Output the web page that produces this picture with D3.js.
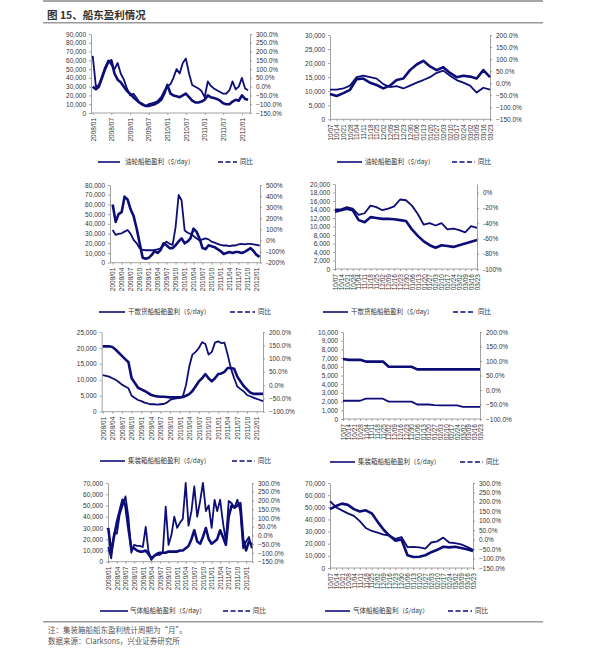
<!DOCTYPE html>
<meta charset="utf-8">
<title>船东盈利情况</title>
<style>

body {
  margin: 0px;
  background: #fff;
}

svg {
  display: block;
  font-family: "Liberation Sans", Arial, sans-serif;
}

.tick text {
  fill: #333;
  font-size: 6.5px;
}

.domain, .tick line {
  stroke: #8a8a8a;
  stroke-width: 0.8px;
}

.cjk {
  font-family: "Noto Sans CJK SC", sans-serif;
}

</style>

<script src="https://cdn.jsdelivr.net/npm/d3@7"></script>

<body>

<script>

// ---- tick labels / categories
var halfYearTicks = ["2008/01", "2008/07", "2009/01", "2009/07", "2010/01", "2010/07", "2011/01", "2011/07", "2012/01"];
var quarterTicks = ["2008/01", "2008/04", "2008/07", "2008/10", "2009/01", "2009/04", "2009/07", "2009/10",
                    "2010/01", "2010/04", "2010/07", "2010/10", "2011/01", "2011/04", "2011/07", "2011/10", "2012/01"];
var weekLabels = ["10/07", "10/14", "10/21", "10/28", "11/04", "11/11", "11/18", "11/25", "12/02", "12/09",
                  "12/16", "12/23", "12/30", "01/06", "01/13", "01/20", "01/27", "02/03", "02/10", "02/17",
                  "02/24", "03/02", "03/09", "03/16", "03/23"];

// ---- oil tankers, monthly 2008/01 - 2012/03
var oilProfit = [30000, 27000, 30000, 40000, 50000, 58000, 60000, 45000, 38000, 35000, 30000, 25000,
                 22000, 18000, 15000, 12000, 10000, 8000, 8000, 9000, 10000, 12000, 15000, 22000,
                 32000, 22000, 20000, 19000, 18000, 20000, 22000, 18000, 14000, 12000, 12000, 13000,
                 15000, 20000, 18000, 17000, 16000, 14000, 11000, 10000, 10000, 13000, 15000, 14000,
                 20000, 16000, 15000];
var oilYoy = [175, 0, 10, 60, 110, 150, 125, 100, 135, 75, 40, -10,
              -50, -40, -60, -90, -105, -110, -100, -95, -90, -80, -60, -25,
              0, 15, 50, 100, 75, 135, 160, 75, 10, 0, -10, -25,
              -60, 30, 5, -10, -20, -30, -40, -40, -20, 30, -15, 0,
              50, -10, -20];

// ---- dry bulk, monthly 2008/01 - 2012/02
var bulkProfit = [60000, 42000, 50000, 52000, 68000, 65000, 55000, 48000, 35000, 20000, 5000, 4000,
                  5000, 8000, 12000, 10000, 13000, 20000, 18000, 15000, 15000, 18000, 22000, 25000,
                  20000, 22000, 25000, 35000, 32000, 25000, 15000, 14000, 18000, 17000, 16000, 14000,
                  12000, 9000, 10000, 11000, 10000, 11000, 11000, 10000, 11000, 13000, 15000, 12000,
                  8000, 6000];
var bulkYoy = [95, 50, 60, 65, 80, 95, 60, 5, -25, -70, -85, -88,
               -88, -88, -85, -80, -70, -45, -10, -30, -40, 120, 410, 360,
               90, 70, 60, 40, 20, 0, 10, 20, 10, -10, -20, -30,
               -40, -45, -45, -50, -45, -45, -35, -30, -35, -30, -30, -35,
               -40, -45];

// ---- containerships, monthly 2008/01 - 2012/03
var boxProfit = [20500, 20500, 20500, 20300, 19500, 18500, 17500, 16500, 15500, 10500, 9000, 7500,
                 7000, 6500, 6000, 5300, 5000, 4800, 4700, 4700, 4600, 4500, 4500, 4500,
                 4500, 4600, 5000, 5500, 6500, 8000, 9500, 10500, 11800, 10500, 9500, 10500,
                 11800, 12000, 12500, 13700, 13700, 13500, 11000, 9500, 8000, 7000, 6000, 5600,
                 5600, 5600, 5600];
var boxYoy = [38, 35, 32, 26, 20, 12, 2, -5, -12, -40, -48, -56,
              -60, -66, -69, -72, -72, -73, -72, -71, -66, -56, -52, -50,
              -48, -40, 0, 70, 115, 125, 140, 162, 155, 115, 125, 160,
              165, 158, 160, 114, 64, 26, -5, -15, -24, -37, -42, -47,
              -52, -56, -60];

// ---- gas carriers, monthly 2008/01 - 2012/03
var gasProfit = [30000, 8000, 22000, 35000, 45000, 55000, 50000, 30000, 12000, 12000, 10000, 9000,
                 9000, 10000, 7000, 3000, 5000, 7000, 8000, 8000, 8000, 9000, 9000, 9000,
                 9000, 10000, 10000, 12000, 14000, 20000, 28000, 18000, 16000, 22000, 30000, 20000,
                 16000, 18000, 20000, 28000, 22000, 15000, 40000, 50000, 48000, 50000, 52000, 20000,
                 10000, 18000, 15000];
var gasYoy = [-66, -131, 11, 11, 120, 172, 223, 107, -99, -54, -60, -60,
              -66, 49, -86, -140, -118, -111, -111, -99, 165, -54, 4, 107,
              43, 75, 94, 300, 56, 139, 281, 107, 197, 300, 139, 172,
              43, 204, 139, 204, 75, -34, 197, 184, 159, 204, 139, -73,
              -34, -9, -73];

// ---- weekly 2011/10/07 - 2012/03/23
var oilWeekProfit = [9000, 8300, 9300, 10500, 14300, 14500, 13000, 12200, 11000, 12000, 14000, 14500, 17500,
                     19500, 20800, 18800, 17500, 18500, 16500, 15000, 15500, 15200, 14500, 17500, 15000];
var oilWeekYoy = [-27, -27, -22, -10, 25, 31, 25, 19, -4, -16, -12, -22, -10,
                  2, 13, 25, 43, 52, 31, 13, 2, -10, -39, -19, -27];
var bulkWeekProfit = [13500, 13800, 14200, 13800, 11500, 11000, 12200, 12000, 11800, 11800, 11700, 11500, 11300,
                      9300, 7800, 6500, 5600, 5000, 5600, 5400, 5200, 5600, 6000, 6400, 6800];
var bulkWeekYoy = [-22, -22, -19, -21, -29, -27, -17, -19, -23, -21, -18, -9, -10,
                   -17, -28, -42, -40, -43, -40, -48, -47, -49, -52, -44, -46];
var boxWeekProfit = [6900, 6800, 6800, 6800, 6600, 6600, 6600, 6600, 6000, 6000, 6000, 6000, 6000,
                     5700, 5700, 5700, 5700, 5700, 5700, 5700, 5700, 5700, 5700, 5700, 5700];
var boxWeekYoy = [-37, -37, -37, -37, -30, -30, -30, -30, -40, -40, -40, -40, -40,
                  -50, -50, -50, -52, -53, -53, -53, -53, -58, -58, -58, -58];
var gasWeekProfit = [48500, 51000, 53000, 52000, 48500, 46500, 47500, 45000, 38000, 31500, 26500, 22500, 23500,
                     10500, 9000, 9300, 10500, 13000, 15000, 17500, 17000, 17500, 16500, 15500, 14000];
var gasWeekYoy = [204, 172, 155, 139, 126, 98, 62, 46, 37, 27, 22, 4, 14,
                  -39, -38, -41, -47, -15, -9, 11, -15, -18, -25, -38, -54];

var navy = "#0d0d78";
var width = 595, height = 657;
var parseMonth = d3.timeParse("%Y/%m");
var fmtPct1 = function(v) { return d3.format(".1f")(v) + "%"; };
var fmtPct0 = function(v) { return v + "%"; };

var svg = d3.select("body").append("svg")
    .attr("width", width)
    .attr("height", height);

// page furniture
svg.append("rect").attr("x", 43).attr("y", 0).attr("width", 500).attr("height", 2).attr("fill", "#a6a6a6");
svg.append("rect").attr("x", 43).attr("y", 22).attr("width", 500).attr("height", 1.5).attr("fill", "#9a9a9a");
svg.append("rect").attr("x", 43).attr("y", 621).attr("width", 500).attr("height", 1.5).attr("fill", "#9a9a9a");

svg.append("text").attr("class", "cjk")
    .attr("x", 47).attr("y", 19)
    .attr("font-size", "10.5px").attr("font-weight", 700).attr("fill", "#333")
    .text("图 15、船东盈利情况");

svg.append("text").attr("class", "cjk")
    .attr("x", 48).attr("y", 633)
    .attr("font-size", "7.5px").attr("fill", "#555")
    .text("注：集装箱船船东盈利统计周期为“月”。");
svg.append("text").attr("class", "cjk")
    .attr("x", 48).attr("y", 644)
    .attr("font-size", "7.5px").attr("fill", "#555")
    .text("数据来源：Clarksons，兴业证券研究所");

var months51 = d3.timeMonth.range(new Date(2008, 0, 1), new Date(2012, 3, 1));

var panels = [
  { box: [63, 30, 220, 137], x0: 91, x1: 250, yTop: 34, yBot: 113,
    lMax: 90000, lStep: 10000, rDom: [-150, 300], rTicks: d3.range(-150, 301, 50), rFmt: fmtPct1,
    time: true, xDom: [new Date(2007, 11, 15), new Date(2012, 2, 20)], ticks: halfYearTicks,
    profit: oilProfit, yoy: oilYoy, name: "油轮船舶盈利（$/day）",
    leg: { y: 162, s: [98, 120], t: 125, d: [218, 237], t2: 240 } },
  { box: [302, 32, 223, 135], x0: 330, x1: 490, yTop: 35, yBot: 119.3,
    lMax: 30000, lStep: 5000, rDom: [-150, 200], rTicks: d3.range(-150, 201, 50), rFmt: fmtPct1,
    time: false, ticks: weekLabels,
    profit: oilWeekProfit, yoy: oilWeekYoy, name: "油轮船舶盈利（$/day）",
    leg: { y: 162, s: [337, 362], t: 365, d: [452, 475], t2: 478 } },
  { box: [83, 180, 205, 135], x0: 110, x1: 260, yTop: 185, yBot: 262.7,
    lMax: 80000, lStep: 10000, rDom: [-200, 500], rTicks: d3.range(-200, 501, 100), rFmt: fmtPct0,
    time: true, xDom: [new Date(2007, 11, 5), new Date(2012, 1, 5)], ticks: quarterTicks,
    profit: bulkProfit, yoy: bulkYoy, name: "干散货船船舶盈利（$/day）",
    leg: { y: 312, s: [99, 125], t: 128, d: [230, 255], t2: 258 } },
  { box: [307, 182, 196, 133], x0: 335, x1: 477, yTop: 184, yBot: 269,
    lMax: 20000, lStep: 2000, rDom: [-100, 11.3], rTicks: d3.range(-100, 1, 20), rFmt: fmtPct0,
    time: false, ticks: weekLabels,
    profit: bulkWeekProfit, yoy: bulkWeekYoy, name: "干散货船船舶盈利（$/day）",
    leg: { y: 312, s: [323, 348], t: 351, d: [453, 475], t2: 478 } },
  { box: [73, 328, 222, 136], x0: 101.7, x1: 263, yTop: 332, yBot: 411.7,
    lMax: 25000, lStep: 5000, rDom: [-100, 200], rTicks: d3.range(-100, 201, 50), rFmt: fmtPct1,
    time: true, xDom: [new Date(2007, 11, 22), new Date(2012, 2, 1)], ticks: quarterTicks,
    profit: boxProfit, yoy: boxYoy, name: "集装箱船船舶盈利（$/day）",
    leg: { y: 461, s: [100, 125], t: 128, d: [232, 255], t2: 258 } },
  { box: [313, 330, 202, 135], x0: 343, x1: 480, yTop: 332, yBot: 419,
    lMax: 10000, lStep: 1000, rDom: [-100, 200], rTicks: d3.range(-100, 201, 50), rFmt: fmtPct1,
    time: false, ticks: weekLabels,
    profit: boxWeekProfit, yoy: boxWeekYoy, name: "集装箱船船舶盈利（$/day）",
    leg: { y: 462, s: [330, 355], t: 358, d: [460, 483], t2: 486 } },
  { box: [79, 478, 204, 135], x0: 108, x1: 252, yTop: 483, yBot: 561.7,
    lMax: 70000, lStep: 10000, rDom: [-150, 300], rTicks: d3.range(-150, 301, 50), rFmt: fmtPct1,
    time: true, xDom: [new Date(2007, 11, 29), new Date(2012, 2, 4)], ticks: quarterTicks,
    profit: gasProfit, yoy: gasYoy, name: "气体船船舶盈利（$/day）",
    leg: { y: 611, s: [100, 128], t: 130, d: [223, 250], t2: 253 } },
  { box: [302, 478, 206, 136], x0: 330, x1: 473, yTop: 483, yBot: 568,
    lMax: 70000, lStep: 10000, rDom: [-150, 300], rTicks: d3.range(-150, 301, 50), rFmt: fmtPct1,
    time: false, ticks: weekLabels,
    profit: gasWeekProfit, yoy: gasWeekYoy, name: "气体船船舶盈利（$/day）",
    leg: { y: 611, s: [325, 350], t: 353, d: [448, 472], t2: 475 } }
];

panels.forEach(drawPanel);

function drawPanel(p) {
  var g = svg.append("g");

  g.append("rect")
      .attr("x", p.box[0]).attr("y", p.box[1])
      .attr("width", p.box[2]).attr("height", p.box[3])
      .attr("fill", "#fff");

  var yL = d3.scaleLinear().domain([0, p.lMax]).range([p.yBot, p.yTop]);
  var yR = d3.scaleLinear().domain(p.rDom).range([p.yBot, p.yTop]);

  var x, xs, tickVals, tickFmt;
  if (p.time) {
    x = d3.scaleTime().domain(p.xDom).range([p.x0, p.x1]);
    xs = months51.slice(0, p.profit.length);
    tickVals = p.ticks.map(parseMonth);
    tickFmt = d3.timeFormat("%Y/%m");
  } else {
    x = d3.scalePoint().domain(p.ticks).range([p.x0, p.x1]).padding(0);
    xs = p.ticks;
    tickVals = p.ticks;
    tickFmt = function(d) { return d; };
  }

  // axes
  g.append("g")
      .attr("transform", "translate(" + p.x0 + ",0)")
      .call(d3.axisLeft(yL)
        .tickValues(d3.range(0, p.lMax + 1, p.lStep))
        .tickFormat(d3.format(","))
        .tickSize(2).tickSizeOuter(0).tickPadding(3));

  g.append("g")
      .attr("transform", "translate(" + p.x1 + ",0)")
      .call(d3.axisRight(yR)
        .tickValues(p.rTicks)
        .tickFormat(p.rFmt)
        .tickSize(2).tickSizeOuter(0).tickPadding(4));

  var xg = g.append("g")
      .attr("transform", "translate(0," + p.yBot + ")")
      .call(d3.axisBottom(x)
        .tickValues(tickVals)
        .tickFormat(tickFmt)
        .tickSize(2).tickSizeOuter(0));
  xg.select(".domain").attr("d", "M" + p.x0 + ",0H" + p.x1);
  xg.selectAll(".tick text")
      .attr("transform", "rotate(-90)")
      .attr("text-anchor", "end")
      .attr("x", -5)
      .attr("y", 0)
      .attr("dy", "0.35em");

  // series
  var lineProfit = d3.line()
      .x(function(d, i) { return x(xs[i]); })
      .y(function(d) { return yL(d); });
  var lineYoy = d3.line()
      .x(function(d, i) { return x(xs[i]); })
      .y(function(d) { return yR(d); });

  g.append("path")
      .datum(p.yoy)
      .attr("fill", "none")
      .attr("stroke", navy)
      .attr("stroke-width", 1.8)
      .attr("stroke-linejoin", "round")
      .attr("d", lineYoy);

  g.append("path")
      .datum(p.profit)
      .attr("fill", "none")
      .attr("stroke", navy)
      .attr("stroke-width", 2.6)
      .attr("stroke-linejoin", "round")
      .attr("d", lineProfit);

  // legend
  var L = p.leg;
  g.append("line")
      .attr("x1", L.s[0]).attr("x2", L.s[1]).attr("y1", L.y).attr("y2", L.y)
      .attr("stroke", navy).attr("stroke-width", 1.6);
  g.append("text").attr("class", "cjk")
      .attr("x", L.t).attr("y", L.y).attr("dy", "0.35em")
      .attr("font-size", "6.5px").attr("fill", "#333")
      .text(p.name);
  g.append("line")
      .attr("x1", L.d[0]).attr("x2", L.d[1]).attr("y1", L.y).attr("y2", L.y)
      .attr("stroke", navy).attr("stroke-width", 1.6)
      .attr("stroke-dasharray", "5,2.5");
  g.append("text").attr("class", "cjk")
      .attr("x", L.t2).attr("y", L.y).attr("dy", "0.35em")
      .attr("font-size", "6.5px").attr("fill", "#333")
      .text("同比");
}

</script>
